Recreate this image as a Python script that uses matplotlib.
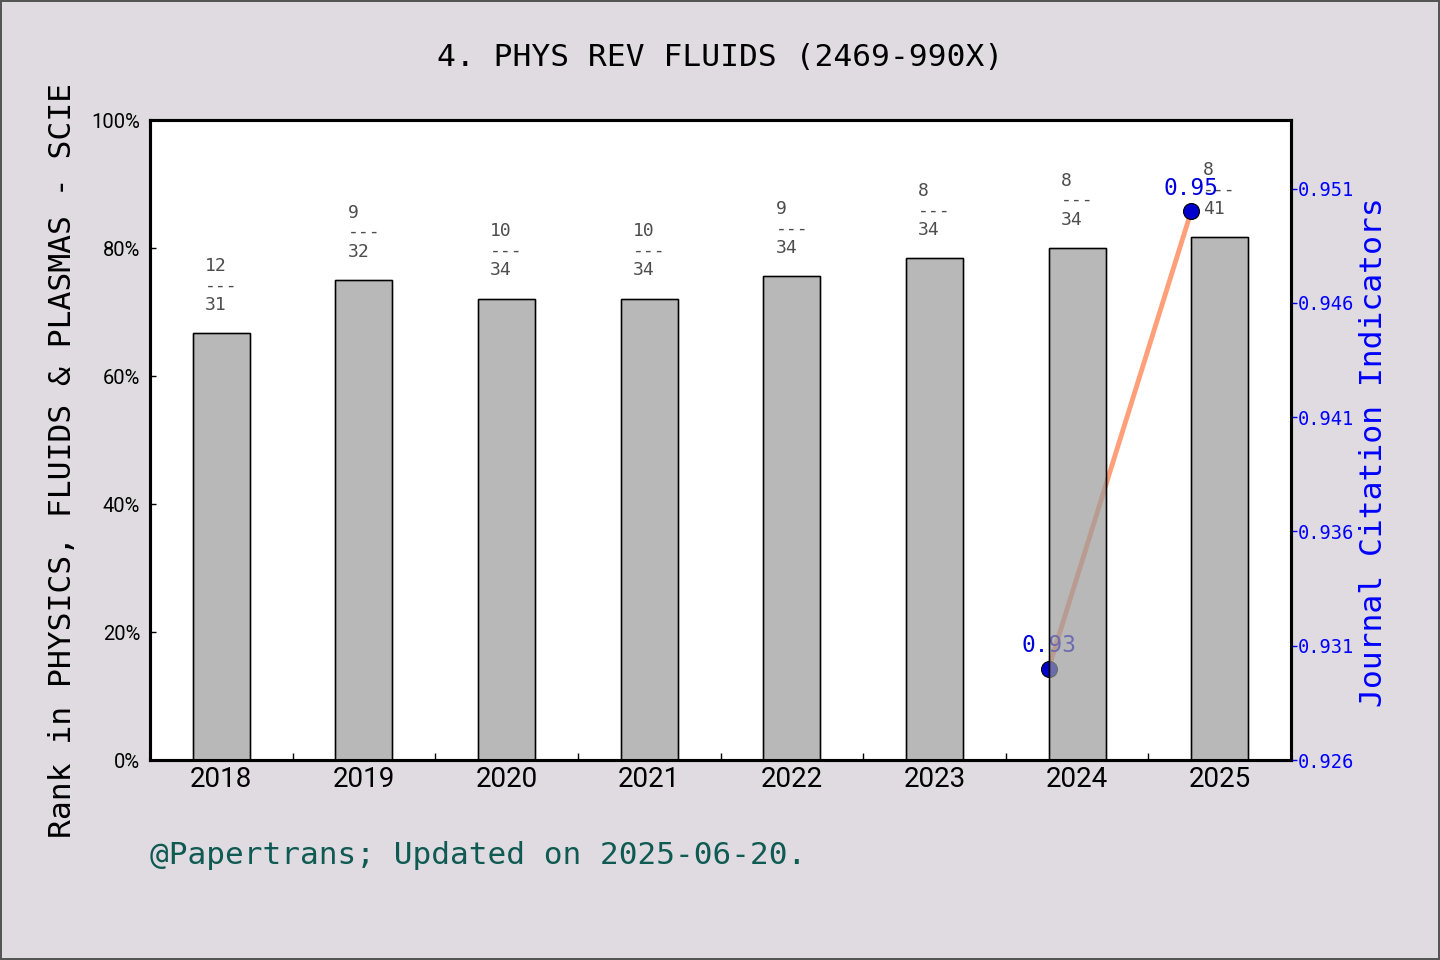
import matplotlib
matplotlib.use("Agg")
import matplotlib.pyplot as plt
from matplotlib.ticker import FixedLocator

# ---- data ----
years = ["2018", "2019", "2020", "2021", "2022", "2023", "2024", "2025"]
rank_pct = [66.7, 75.0, 72.1, 72.1, 75.6, 78.4, 80.0, 81.7]
ranks = [12, 9, 10, 10, 9, 8, 8, 8]
totals = [31, 32, 34, 34, 34, 34, 34, 41]
jci_years = ["2024", "2025"]
jci_values = [0.93, 0.95]
left_ticks = [0, 20, 40, 60, 80, 100]
right_ticks = [0.926, 0.931, 0.936, 0.941, 0.946, 0.951]

title = "4. PHYS REV FLUIDS (2469-990X)"
left_label = "Rank in PHYSICS, FLUIDS & PLASMAS - SCIE"
right_label = "Journal Citation Indicators"
footer = "@Papertrans; Updated on 2025-06-20."

BG = "#dfdbe1"
MONO = "DejaVu Sans Mono"

fig = plt.figure(figsize=(14.4, 9.6), dpi=100, facecolor=BG)
fig.patch.set_edgecolor("#555555")
fig.patch.set_linewidth(1.5)

ax = fig.add_axes([150/1440, 1-760/960, (1291-150)/1440, (760-120)/960])
ax2 = ax.twinx()

# bars on top of the line axis, semi-transparent
ax.set_zorder(ax2.get_zorder() + 1)
ax.patch.set_visible(False)
ax2.patch.set_visible(True)
ax2.patch.set_facecolor("white")

x = list(range(len(years)))
ax.bar(x, rank_pct, width=0.4, color=(0.604, 0.608, 0.612), alpha=0.7,
       edgecolor="black", linewidth=1.0)
ax.bar(x, rank_pct, width=0.4, color="none", edgecolor="black", linewidth=1.0)

for i, (v, r, n) in enumerate(zip(rank_pct, ranks, totals)):
    ax.annotate(f"{r}\n---\n{n}", xy=(i, v), xytext=(0, 14),
                textcoords="offset points", ha="center", va="bottom",
                multialignment="left", fontsize=13, family=MONO,
                color="#4d4d4d", linespacing=1.1)

ax.set_xlim(-0.5, 7.5)
ax.set_ylim(0, 100)
ax.set_yticks(left_ticks)
ax.set_yticklabels([f"{t}%" for t in left_ticks], family="Roboto", fontsize=14.5)
ax.tick_params(axis="y", direction="in", length=4, width=1, pad=7)
ax.set_xticks(x)
ax.set_xticklabels(years, family="Roboto", fontsize=20)
ax.tick_params(axis="x", which="major", length=0, pad=4)
ax.xaxis.set_minor_locator(FixedLocator([i + 0.5 for i in range(len(years) - 1)]))
ax.tick_params(axis="x", which="minor", direction="in", length=5, width=1)

# JCI line
jx = [years.index(y) - 0.2 for y in jci_years]
ax2.plot(jx, jci_values, color="#ffa07a", linewidth=3.5, zorder=2)
ax2.plot(jx, jci_values, linestyle="none", marker="o", markersize=11.5,
         markerfacecolor="#0000cd", markeredgecolor="black", markeredgewidth=0.8,
         zorder=3)
for xx, v in zip(jx, jci_values):
    ax2.annotate(f"{v:.2f}", xy=(xx, v), xytext=(0, 8), textcoords="offset points",
                 ha="center", va="bottom", fontsize=16.4, family=MONO,
                 color="#0000dd", zorder=4)

ax2.set_ylim(0.926, 0.954)
ax2.set_yticks(right_ticks)
ax2.set_yticklabels([f"{t:.3f}" for t in right_ticks], family=MONO,
                    fontsize=13.5, color="blue")
ax2.tick_params(axis="y", direction="out", length=4, width=1, color="blue", pad=1)

for a in (ax, ax2):
    for s in a.spines.values():
        s.set_linewidth(2.2)
        s.set_color("black")

fig.text(0.5, 1-57/960, title, ha="center", va="center", family=MONO,
         fontsize=22.5, color="black")
fig.text(63/1440, 1-461/960, left_label, ha="center", va="center", rotation=90,
         family=MONO, fontsize=22.6, color="black")
fig.text(1373/1440, 1-452/960, right_label, ha="center", va="center", rotation=90,
         family=MONO, fontsize=22.6, color="blue")
fig.text(150/1440, 1-855/960, footer, ha="left", va="center", family=MONO,
         fontsize=22.4, color="#0f5a52")

fig.savefig("out.png", dpi=100, facecolor=BG, edgecolor=fig.patch.get_edgecolor())
